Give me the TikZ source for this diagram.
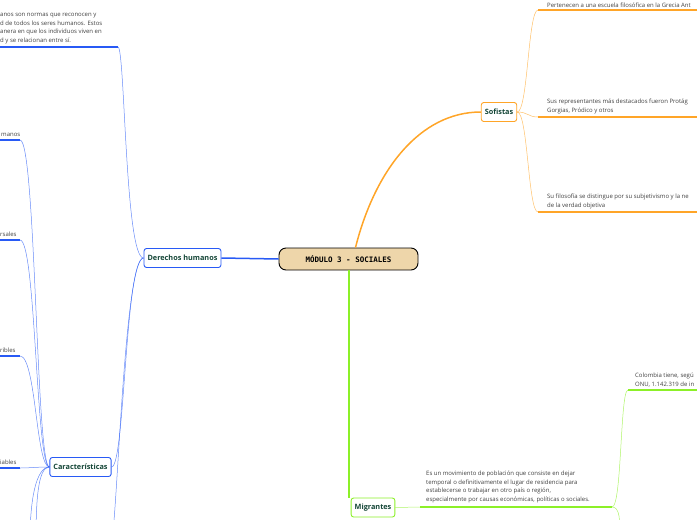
\documentclass[tikz,border=0pt]{standalone}
\usepackage{fontspec}
\setmainfont{Open Sans}
\setmonofont{DejaVu Sans Mono}
\begin{document}
\begin{tikzpicture}[x=1pt,y=-1pt,
  sm/.style={font=\fontsize{6}{8.6}\selectfont, text=black!75, align=left, inner sep=0pt},
  topic/.style={draw, rounded corners=2.5pt, line width=0.9pt, fill=white, font=\fontsize{7.3}{9}\selectfont\bfseries, text={rgb,255:red,20;green,70;blue,55}, inner xsep=3.5pt, minimum height=19pt},
  ob/.style={draw={rgb,255:red,255;green,165;blue,40}},
  bl/.style={draw={rgb,255:red,40;green,90;blue,245}},
  gr/.style={draw={rgb,255:red,140;green,240;blue,40}},
  thin/.style={line width=0.5pt, opacity=0.7},
  thick/.style={line width=1.2pt}]
\useasboundingbox (0,0) rectangle (697,520);
\clip (0,0) rectangle (697,520);
% coordinates
\coordinate (s1) at (538,10); \coordinate (s1e) at (697,10);
\coordinate (s2) at (538,117); \coordinate (s2e) at (697,117);
\coordinate (s3) at (538,212); \coordinate (s3e) at (697,212);
\coordinate (d1) at (118,47); \coordinate (d1e) at (0,47);
\coordinate (d3) at (112,540);
\coordinate (c1) at (20,140); \coordinate (c1e) at (0,140);
\coordinate (c2) at (20,240); \coordinate (c2e) at (0,240);
\coordinate (c3) at (20,356); \coordinate (c3e) at (0,356);
\coordinate (c4) at (20,468); \coordinate (c4e) at (0,468);
\coordinate (c5) at (30,540); \coordinate (c6) at (36,540);
\coordinate (m0) at (420,507); \coordinate (m1) at (612,507);
\coordinate (m2) at (628,390); \coordinate (m2e) at (697,390);
\coordinate (m3) at (620,540);
% nodes
\node[draw, rounded corners=7pt, line width=0.9pt, fill={rgb,255:red,238;green,214;blue,170}, font=\ttfamily\fontsize{7.5}{9}\selectfont\bfseries, minimum width=139pt, minimum height=22pt] (root) at (348.5,259) {MÓDULO 3 - SOCIALES};
\node[topic, ob] (sof) at (499,112) {Sofistas};
\node[topic, bl] (dh) at (182.5,258) {Derechos humanos};
\node[topic, bl] (car) at (80.5,467) {Características};
\node[topic, gr] (mig) at (373,507.5) {Migrantes};
% main connectors
\draw[ob, line width=1.5pt] (root.north) ++(7,0) .. controls (375,170) and (420,112) .. (sof.west);
\draw[bl, line width=1.5pt] (root.west) -- (dh.east);
\draw[gr, line width=1.5pt] (349,270) -- (mig.north -| 349,0);
% sofistas children
\foreach \c/\e/\y in {s1/s1e/10,s2/s2e/117,s3/s3e/212}{
  \draw[ob, thin] (sof.east) .. controls (528,112) and (528,\y) .. (\c);
  \draw[ob, thick] (\c) -- (\e);}
% DH children
\draw[bl, thin] (dh.west) .. controls (125,258) and (125,47) .. (d1);
\draw[bl, thick] (d1) -- (d1e);
\draw[bl, thin] (dh.west) .. controls (125,258) and (125,467) .. (car.east);
\draw[bl, thin] (dh.west) .. controls (125,258) and (118,500) .. (d3);
% Caracteristicas children
\foreach \c/\e/\y in {c1/c1e/140,c2/c2e/240,c3/c3e/356}{
  \draw[bl, thin] (car.west) .. controls (36,467) and (36,\y) .. (\c);
  \draw[bl, thick] (\c) -- (\e);}
\draw[bl, thin] (car.west) .. controls (36,467) and (30,468) .. (c4);
\draw[bl, thick] (c4) -- (c4e);
\draw[bl, thin] (car.west) .. controls (36,467) and (30,500) .. (c5);
\draw[bl, thin] (car.west) .. controls (38,467) and (36,500) .. (c6);
% Migrantes children
\draw[gr, thin] (mig.east) -- (m0);
\draw[gr, thick] (m0) -- (m1);
\draw[gr, thin] (m1) .. controls (622,507) and (620,390) .. (m2);
\draw[gr, thick] (m2) -- (m2e);
\draw[gr, thin] (m1) .. controls (620,507) and (620,520) .. (m3);
% texts
\node[sm, anchor=south west] (t1) at (0,44) {anos son normas que reconocen y\\d de todos los seres humanos. Estos\\anera en que los individuos viven en\\d y se relacionan entre sí.};
\node[sm, anchor=south west] (t2) at (1,137) {manos};
\node[sm, anchor=south west] (t3) at (0,237) {rsales};
\node[sm, anchor=south west] (t4) at (0,353) {ribles};
\node[sm, anchor=south west] (t5) at (0,465) {iables};
\node[sm, anchor=south west] (t6) at (547,7.5) {Pertenecen a una escuela filosófica en la Grecia Ant};
\node[sm, anchor=south west] (t7) at (547,114) {Sus representantes más destacados fueron Protág\\Gorgias, Pródico y otros};
\node[sm, anchor=south west] (t8) at (547,209) {Su filosofía se distingue por su subjetivismo y la ne\\de la verdad objetiva};
\node[sm, anchor=south west] (t9) at (635,387) {Colombia tiene, segú\\ONU, 1.142.319 de in};
\node[sm, anchor=south west] (t10) at (426,503) {Es un movimiento de población que consiste en dejar\\temporal o definitivamente el lugar de residencia para\\establecerse o trabajar en otro país o región,\\especialmente por causas económicas, políticas o sociales.};
\end{tikzpicture}
\end{document}
